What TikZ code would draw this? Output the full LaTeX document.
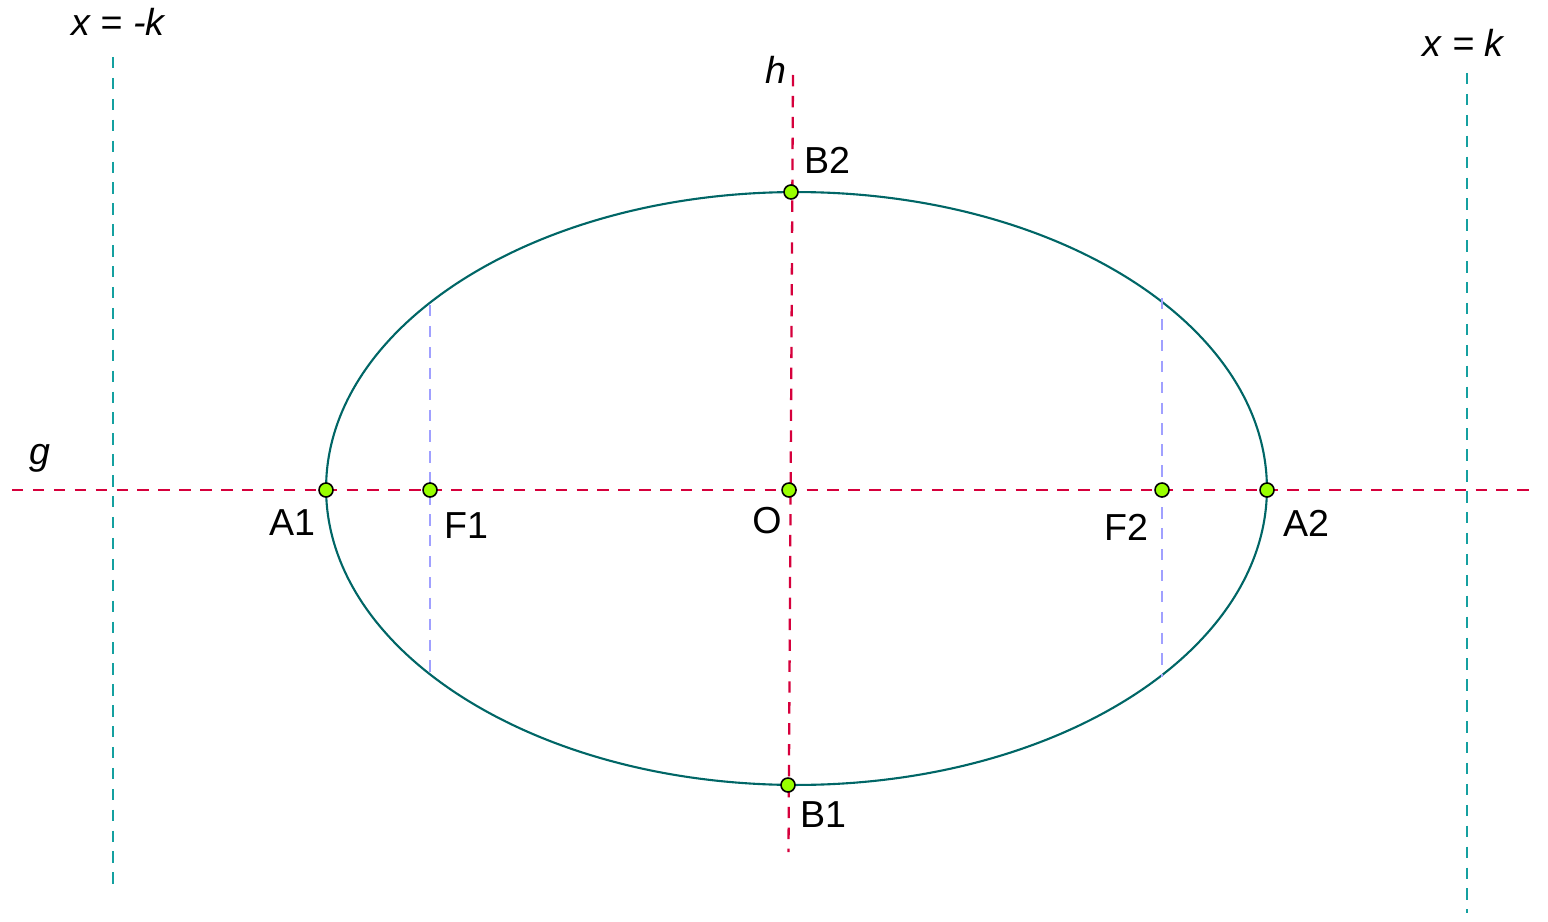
\documentclass[tikz,border=0pt]{standalone}
\usepackage{fontspec}
\setmainfont{Liberation Sans}
\usetikzlibrary{positioning}
\definecolor{conic}{RGB}{0,102,102}
\definecolor{axisred}{RGB}{214,0,60}
\definecolor{focal}{RGB}{160,160,255}
\definecolor{dirteal}{RGB}{20,160,160}
\definecolor{ptgreen}{RGB}{153,255,0}
\tikzset{
	axis/.style = {draw=axisred, line width=1.3pt, dash pattern=on 6.5pt off 5.4pt},
	dirline/.style = {draw=dirteal, line width=1.3pt, dash pattern=on 6.5pt off 5.4pt},
	focline/.style = {draw=focal, line width=1.3pt, dash pattern=on 6.5pt off 5.4pt},
	pt/.style = {circle, fill=ptgreen, draw=black, line width=0.9pt, inner sep=0pt, minimum size=0.28cm},
	lbl/.style = {inner sep=0pt, font=\fontsize{21.4}{25}\selectfont}
}
\begin{document}
\begin{tikzpicture}[x=0.02cm, y=-0.02cm]
	\useasboundingbox (0,0) rectangle (1548,922);
	% ellipse
	\coordinate (M) at (796.5,488.5);
	\draw[conic, line width=1.2pt] (M) ellipse [x radius=9.41cm, y radius=5.93cm];
	% axes
	\coordinate (gl) at (12,490);
	\coordinate (gr) at (1535,490);
	\coordinate (ht) at (793,75);
	\coordinate (hb) at (788.5,852);
	\draw[axis] (gl) -- (gr);
	\draw[axis] (ht) -- (hb);
	% directrices
	\coordinate (dlt) at (113,57);
	\coordinate (dlb) at (113,893);
	\coordinate (drt) at (1467,73);
	\coordinate (drb) at (1467,913);
	\draw[dirline] (dlt) -- (dlb);
	\draw[dirline] (drt) -- (drb);
	% latus rectum lines
	\coordinate (f1t) at (430,305);
	\coordinate (f1b) at (430,679);
	\coordinate (f2t) at (1162,298);
	\coordinate (f2b) at (1162,677);
	\draw[focline] (f1t) -- (f1b);
	\draw[focline] (f2t) -- (f2b);
	% points
	\node[pt] (A1) at (326,490) {};
	\node[pt] (F1) at (430,490) {};
	\node[pt] (O) at (789,490) {};
	\node[pt] (F2) at (1162,490) {};
	\node[pt] (A2) at (1267,490) {};
	\node[pt] (B2) at (791,192) {};
	\node[pt] (B1) at (788,785) {};
	% labels
	\path	(292,523) node[lbl] (lA1) {A1}
			(466,526) node[lbl] (lF1) {F1}
			(767,521) node[lbl] (lO) {O}
			(1126,527) node[lbl] (lF2) {F2}
			(1306,523) node[lbl] (lA2) {A2}
			(827,160) node[lbl] (lB2) {B2}
			(823,815) node[lbl] (lB1) {B1}
			(776,70) node[lbl] (lh) {\itshape h}
			(40,458) node[lbl] (lg) {\itshape g}
			(118,22) node[lbl] (ldl) {\itshape x = -k}
			(1463,43) node[lbl] (ldr) {\itshape x = k};
\end{tikzpicture}
\end{document}
